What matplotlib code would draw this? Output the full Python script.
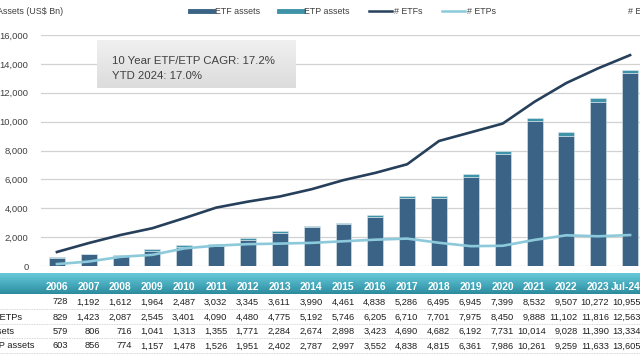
import numpy as np
import matplotlib
matplotlib.use("Agg")
import matplotlib.pyplot as plt
from matplotlib.lines import Line2D
from matplotlib.transforms import blended_transform_factory

plt.rcParams['font.family'] = ['Liberation Sans', 'DejaVu Sans']

# data
years = ['2006', '2007', '2008', '2009', '2010', '2011', '2012', '2013', '2014', '2015',
         '2016', '2017', '2018', '2019', '2020', '2021', '2022', '2023', 'Jul-24']
n_etfs = [728, 1192, 1612, 1964, 2487, 3032, 3345, 3611, 3990, 4461,
          4838, 5286, 6495, 6945, 7399, 8532, 9507, 10272, 10955]
n_etfs_etps = [829, 1423, 2087, 2545, 3401, 4090, 4480, 4775, 5192, 5746,
               6205, 6710, 7701, 7975, 8450, 9888, 11102, 11816, 12563]
etf_assets = [579, 806, 716, 1041, 1313, 1355, 1771, 2284, 2674, 2898,
              3423, 4690, 4682, 6192, 7731, 10014, 9028, 11390, 13334]
etf_etp_assets = [603, 856, 774, 1157, 1478, 1526, 1951, 2402, 2787, 2997,
                  3552, 4838, 4815, 6361, 7986, 10261, 9259, 11633, 13605]
row_labels = ['# ETFs', '# ETFs/ETPs', 'ETF assets', 'ETF/ETP assets']

C_ETF = '#3a6385'
C_ETP = '#3f93a8'
C_NETF = '#263f5a'
C_NETP = '#8ccadb'
TXT = '#404040'

W, H = 640, 360


def fx(px):
    return px / W


def fy(py):
    return 1 - py / H


fig = plt.figure(figsize=(6.4, 3.6), dpi=100)

x = np.arange(len(years))
etp_only = np.array(etf_etp_assets) - np.array(etf_assets)
n_etps = np.array(n_etfs_etps) - np.array(n_etfs)

# main chart, runs past the right edge like the cropped original
ax = fig.add_axes([fx(41), fy(266), fx(646) - fx(41), fy(35) - fy(266)])
ax.bar(x, etf_assets, width=0.5, color=C_ETF, edgecolor='#dfe8ee', linewidth=0.4, zorder=2)
ax.bar(x, etp_only, bottom=etf_assets, width=0.5, color=C_ETP, edgecolor='#dfe8ee',
       linewidth=0.4, zorder=2)
ax.set_xlim(-0.5, len(years) - 0.5)
ax.set_ylim(0, 16000)
ax.set_yticks(range(0, 16001, 2000))
ax.set_yticklabels([f'{v:,}' for v in range(0, 16001, 2000)], fontsize=6.8, color=TXT)
ax.tick_params(axis='y', length=0, pad=9)
ax.set_xticks([])
ax.grid(axis='y', color='#d2d2d2', linewidth=0.9, zorder=0)
ax.set_axisbelow(True)
for s in ax.spines.values():
    s.set_visible(False)

ax2 = ax.twinx()
ax2.plot(x, n_etfs, color=C_NETF, linewidth=1.9)
ax2.plot(x, n_etps, color=C_NETP, linewidth=1.9)
ax2.set_ylim(0, 12000)
ax2.set_yticks([])
for s in ax2.spines.values():
    s.set_visible(False)

# titles / legend
fig.text(fx(-3), fy(11), 'Assets (US$ Bn)', fontsize=6.4, color=TXT, va='center', ha='left')
fig.text(fx(628), fy(12), '# ETFs/ETPs', fontsize=6.4, color=TXT, va='center', ha='left')
handles = [Line2D([], [], color=C_ETF, lw=3.5),
           Line2D([], [], color=C_ETP, lw=3.5),
           Line2D([], [], color=C_NETF, lw=1.8),
           Line2D([], [], color=C_NETP, lw=1.8)]
fig.legend(handles, ['ETF assets', 'ETP assets', '# ETFs', '# ETPs'], loc='center',
           bbox_to_anchor=(fx(343), fy(12)), ncol=4, frameon=False, fontsize=6.4,
           handlelength=2.6, handletextpad=0.2, columnspacing=2.2, labelcolor=TXT)

# CAGR box
bx = fig.add_axes([fx(97), fy(88), fx(296) - fx(97), fy(40) - fy(88)])
grad = np.linspace(0, 1, 50).reshape(-1, 1)
bx.imshow(grad, aspect='auto', cmap=matplotlib.colors.LinearSegmentedColormap.from_list(
    'g', ['#f0f0f0', '#dcdcdc']), extent=(0, 1, 0, 1), origin='upper')
bx.set_xlim(0, 1)
bx.set_ylim(0, 1)
bx.axis('off')
fig.text(fx(112), fy(61), '10 Year ETF/ETP CAGR: 17.2%', fontsize=8.2, color=TXT, va='center')
fig.text(fx(112), fy(76), 'YTD 2024: 17.0%', fontsize=8.2, color=TXT, va='center')

# table header band
hb = fig.add_axes([0, fy(294), 1, fy(273) - fy(294)])
hb.imshow(grad, aspect='auto', cmap=matplotlib.colors.LinearSegmentedColormap.from_list(
    'h', ['#6ccbdb', '#4aaec0', '#2c8c9e']), extent=(0, 1, 0, 1), origin='upper')
hb.set_xlim(0, 1)
hb.set_ylim(0, 1)
hb.axis('off')

trans = blended_transform_factory(ax.transData, fig.transFigure)
off = 11 / 31.84
for i, yr in enumerate(years):
    fig.text(i + off, fy(287), yr, transform=trans, fontsize=7.4, fontweight='bold',
             color='white', ha='right', va='center')

rows = [n_etfs, n_etfs_etps, etf_assets, etf_etp_assets]
row_y = [302, 317, 331, 346]
sep_y = [309, 324, 338, 353]
for lab, vals, ry, sy in zip(row_labels, rows, row_y, sep_y):
    fig.text(fx(-33), fy(ry), lab, fontsize=6.7, color='#202020', ha='left', va='center')
    for i, v in enumerate(vals):
        fig.text(i + off, fy(ry), f'{v:,}', transform=trans, fontsize=6.7,
                 color='#202020', ha='right', va='center')
    fig.add_artist(Line2D([0, 1], [fy(sy), fy(sy)], transform=fig.transFigure,
                          color='#c8c8c8', lw=0.6, linestyle=(0, (1, 1))))

fig.savefig('out.png', dpi=100)
